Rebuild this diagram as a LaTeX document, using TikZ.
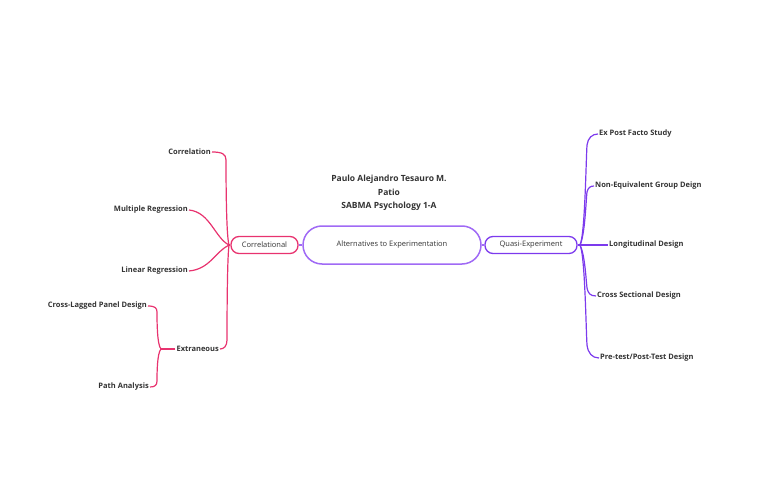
\documentclass[tikz,border=0pt]{standalone}
\usepackage{fontspec}
\setmainfont{Open Sans}
\begin{document}
\begin{tikzpicture}[x=1pt,y=-1pt,
 lbl/.style={font=\fontsize{7.5}{9}\selectfont\bfseries, text=black!80, inner sep=1pt},
 pinkl/.style={draw=pinkc, line width=1.2pt},
 purl/.style={draw=purc, line width=1.2pt}]
\definecolor{pinkc}{HTML}{E8336F}
\definecolor{purc}{HTML}{7C3AED}
\definecolor{purm}{HTML}{A06AF5}
\useasboundingbox (0,0) rectangle (768,497);
\node[draw=purm, line width=1.5pt, rounded corners=19pt, minimum width=178pt, minimum height=38pt, lbl, font=\fontsize{7.5}{9}\selectfont] (main) at (392,245) {Alternatives to Experimentation};
\node[draw=pinkc, line width=1.3pt, rounded corners=8pt, minimum width=67pt, minimum height=17pt, lbl, font=\fontsize{7.5}{9}\selectfont] (cor) at (264.5,245) {Correlational};
\node[draw=purc, line width=1.3pt, rounded corners=8pt, minimum width=92pt, minimum height=17pt, lbl, font=\fontsize{7.5}{9}\selectfont] (qua) at (531,245) {Quasi-Experiment};
\node[lbl, align=center, font=\fontsize{8.5}{13.5}\selectfont\bfseries] (title) at (389,193) {Paulo Alejandro Tesauro M.\\Patio\\SABMA Psychology 1-A};
\draw[purm, line width=1.3pt] (cor.east) -- (main.west);
\draw[purm, line width=1.3pt] (main.east) -- (qua.west);
% left
\node[lbl, anchor=east] (c1) at (212,152) {Correlation};
\node[lbl, anchor=east] (c2) at (189,210) {Multiple Regression};
\node[lbl, anchor=east] (c3) at (189,271) {Linear Regression};
\node[lbl, anchor=east] (ex) at (220,349) {Extraneous};
\node[lbl, anchor=east] (e1) at (148,306) {Cross-Lagged Panel Design};
\node[lbl, anchor=east] (e2) at (150,387) {Path Analysis};
\coordinate (cb) at (229,245);
\draw[pinkl] (cor.west) -- (cb);
\draw[pinkl] (cb) .. controls (226,235) and (226,170) .. (226,160) .. controls (226,154) and (222,152) .. (c1.east);
\draw[pinkl] (cb) .. controls (215,238) and (210,212) .. (c2.east);
\draw[pinkl] (cb) .. controls (215,252) and (210,269) .. (c3.east);
\draw[pinkl] (cb) .. controls (227,260) and (227,330) .. (227,340) .. controls (227,346) and (224,349) .. (ex.east);
\coordinate (eb) at (161,349);
\draw[pinkl] (ex.west) -- (eb);
\draw[pinkl] (eb) .. controls (157,345) and (157,320) .. (157,312) .. controls (157,308) and (155,306) .. (e1.east);
\draw[pinkl] (eb) .. controls (157,353) and (157,375) .. (157,381) .. controls (157,385) and (155,387) .. (e2.east);
% right
\node[lbl, anchor=west] (q1) at (598,134) {Ex Post Facto Study};
\node[lbl, anchor=west] (q2) at (594,186) {Non-Equivalent Group Deign};
\node[lbl, anchor=west] (q3) at (608,245) {Longitudinal Design};
\node[lbl, anchor=west] (q4) at (596,296) {Cross Sectional Design};
\node[lbl, anchor=west] (q5) at (599,358) {Pre-test/Post-Test Design};
\coordinate (qb) at (580,245);
\draw[purl] (qua.east) -- (qb);
\draw[purl] (qb) .. controls (585,235) and (586,160) .. (587,145) .. controls (588,138) and (592,134) .. (q1.west);
\draw[purl] (qb) .. controls (585,235) and (586,200) .. (587,192) .. controls (588,188) and (590,186) .. (q2.west);
\draw[purl] (qb) -- (q3.west);
\draw[purl] (qb) .. controls (585,255) and (586,280) .. (587,288) .. controls (588,293) and (590,296) .. (q4.west);
\draw[purl] (qb) .. controls (585,255) and (586,330) .. (587,345) .. controls (588,353) and (592,358) .. (q5.west);
\end{tikzpicture}
\end{document}
